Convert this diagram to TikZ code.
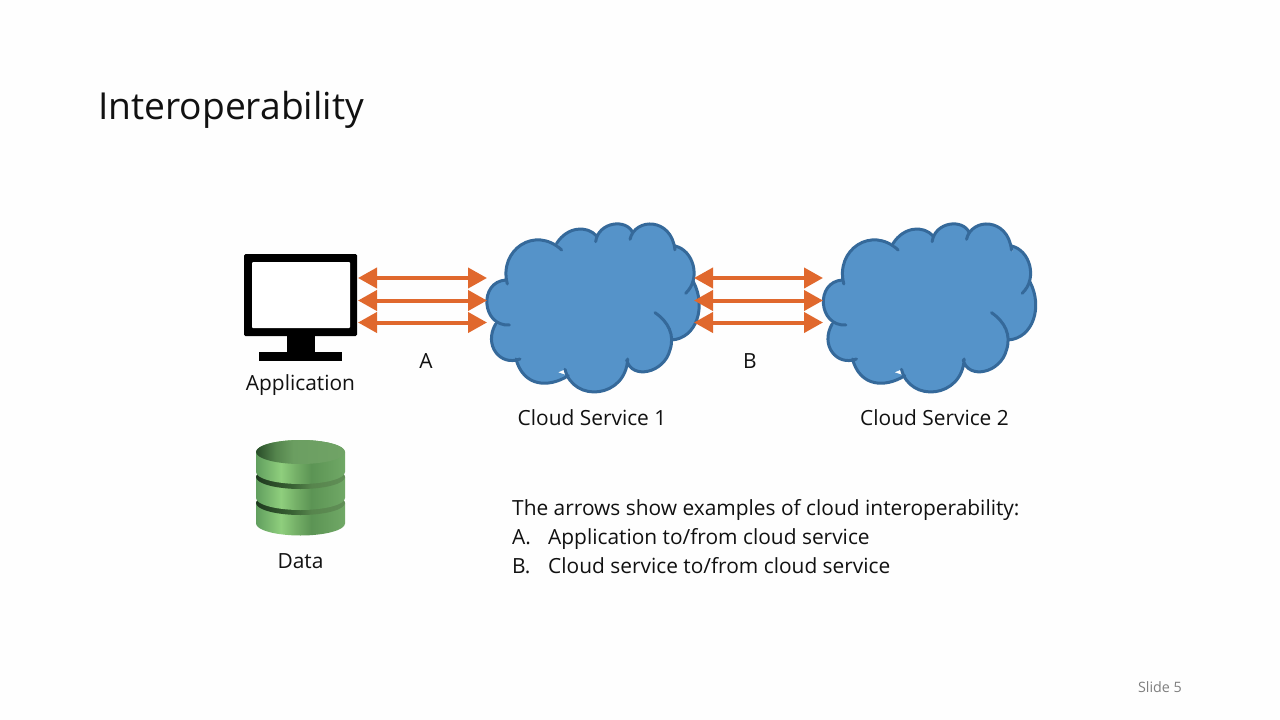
\documentclass[tikz,border=0pt]{standalone}
\usepackage{fontspec}
\setmainfont{Open Sans}
\usetikzlibrary{arrows.meta}
\definecolor{cloudfill}{HTML}{5593C9}
\definecolor{cloudline}{HTML}{35699A}
\definecolor{arroworange}{HTML}{E0682D}
\definecolor{slidegray}{HTML}{7F7F7F}
\definecolor{textdark}{HTML}{111111}
\pgfdeclarehorizontalshading{dbside}{100bp}{rgb(0bp)=(0.38,0.62,0.37); rgb(25bp)=(0.38,0.62,0.37); rgb(39bp)=(0.56,0.81,0.49); rgb(48bp)=(0.45,0.68,0.40); rgb(56bp)=(0.36,0.58,0.33); rgb(75bp)=(0.44,0.66,0.40); rgb(100bp)=(0.44,0.66,0.40)}
\pgfdeclarehorizontalshading{dbtop}{100bp}{rgb(0bp)=(0.16,0.30,0.16); rgb(25bp)=(0.16,0.30,0.16); rgb(36bp)=(0.33,0.52,0.30); rgb(46bp)=(0.42,0.62,0.38); rgb(75bp)=(0.44,0.64,0.40); rgb(100bp)=(0.44,0.64,0.40)}
\pgfdeclarehorizontalshading{dbgroove}{100bp}{rgb(0bp)=(0.12,0.22,0.12); rgb(25bp)=(0.12,0.22,0.12); rgb(45bp)=(0.22,0.38,0.20); rgb(56bp)=(0.34,0.52,0.30); rgb(75bp)=(0.38,0.56,0.34); rgb(100bp)=(0.38,0.56,0.34)}
\newcommand{\cloudstrokes}{
  (82,222) .. controls (55,120) and (165,45) .. (245,120)
  (230,100) .. controls (262,50) and (320,45) .. (350,78)
  (347,95) .. controls (355,35) and (440,25) .. (458,68)
  (450,88) .. controls (465,22) and (575,22) .. (585,120)
  (585,108) .. controls (640,120) and (665,205) .. (617,250)
  (640,215) .. controls (680,290) and (650,385) .. (575,390)
  (525,308) .. controls (565,335) and (585,375) .. (570,420) .. controls (552,490) and (455,510) .. (440,450)
  (443,447) .. controls (438,565) and (280,580) .. (255,478)
  (265,497) .. controls (205,535) and (130,530) .. (108,447)
  (120,447) .. controls (60,470) and (10,405) .. (47,342)
  (88,345) .. controls (5,350) and (-5,215) .. (78,210)
}
\newcommand{\cloudshape}[1]{
  \begin{scope}[shift={(#1,210)},x=0.3333pt,y=-0.3333pt]
    \fill[cloudfill] \cloudstrokes
      (82,222) -- (78,210) -- (170,100) -- (245,120) -- (230,100) -- (295,75) -- (350,78) -- (347,95) -- (375,60) -- (458,68) -- (450,88) -- (515,60) -- (585,108) -- (585,120) -- (640,215) -- (640,300) -- (615,370) -- (575,390) -- (570,420) -- (490,470) -- (440,450) -- (345,530) -- (255,478) -- (205,500) -- (108,447) -- (95,440) -- (47,380) -- (47,342) -- (35,285) -- cycle;
    \draw[cloudline,line width=3pt,line cap=round] \cloudstrokes;
  \end{scope}
}
\newcommand{\dbdisc}[3]{
  % #1 top centre y, #2 edge height, #3 top shading
  \shade[shading=dbside] (256,#1) -- (256,#1+#2) .. controls (256,#1+#2+6.6) and (276,#1+#2+12) .. (300.5,#1+#2+12) .. controls (325,#1+#2+12) and (345,#1+#2+6.6) .. (345,#1+#2) -- (345,#1) .. controls (345,#1-6.6) and (325,#1-12) .. (300.5,#1-12) .. controls (276,#1-12) and (256,#1-6.6) .. (256,#1) -- cycle;
  \shade[shading=#3] (256,#1) .. controls (256,#1+6.6) and (276,#1+12) .. (300.5,#1+12) .. controls (325,#1+12) and (345,#1+6.6) .. (345,#1) .. controls (345,#1-6.6) and (325,#1-12) .. (300.5,#1-12) .. controls (276,#1-12) and (256,#1-6.6) .. (256,#1) -- cycle;
}
\tikzset{
  lbl/.style={inner sep=0pt,font=\fontsize{20.9}{25}\selectfont,text=textdark},
  dbl/.style={arroworange,line width=4pt,{Triangle[length=19pt,width=20pt]}-{Triangle[length=19pt,width=20pt]}},
}
\begin{document}
\begin{tikzpicture}[x=1pt,y=-1pt]
\useasboundingbox (0,0) rectangle (1280,720);
\fill[white!99.5!black] (0,0) rectangle (1280,720);
\node[anchor=base west,inner sep=0pt,font=\fontsize{37.2}{44}\selectfont,text=textdark] (title) at (98,119) {Interoperability};
% monitor
\node[fill=black,rounded corners=1.5pt,minimum width=113pt,minimum height=82pt,inner sep=0pt] (app) at (300.5,295) {};
\node[fill=white,rounded corners=1pt,minimum width=98pt,minimum height=66pt,inner sep=0pt] (screen) at (301,295) {};
\node[fill=black,minimum width=28pt,minimum height=16pt,inner sep=0pt] (stem) at (301,344) {};
\node[fill=black,minimum width=83pt,minimum height=9pt,inner sep=0pt] (base) at (300.5,356.5) {};
\node[lbl,anchor=base] (applbl) at (300.5,390) {Application};
% clouds
\cloudshape{480}
\cloudshape{816.5}
\node[lbl,anchor=base] (c1lbl) at (592,425) {Cloud Service 1};
\node[lbl,anchor=base] (c2lbl) at (934.5,425) {Cloud Service 2};
% arrows
\foreach \n/\y in {1/278,2/300.5,3/322.5}{
  \coordinate (al\n) at (358,\y);
  \coordinate (ar\n) at (487,\y);
  \coordinate (bl\n) at (694,\y);
  \coordinate (br\n) at (823,\y);
  \draw[dbl] (al\n) -- (ar\n);
  \draw[dbl] (bl\n) -- (br\n);
}
\node[lbl,anchor=base] (alab) at (426,368) {A};
\node[lbl,anchor=base] (blab) at (750,368) {B};
% database
\dbdisc{503}{20.5}{dbgroove}
\dbdisc{477}{21}{dbgroove}
\dbdisc{452}{20}{dbtop}
\node[lbl,anchor=base] (dbl) at (300.5,568) {Data};
% text
\node[lbl,anchor=base west] (t0) at (512,515) {The arrows show examples of cloud interoperability:};
\node[lbl,anchor=base west] (t1a) at (512,544) {A.};
\node[lbl,anchor=base west] (t1b) at (548,544) {Application to/from cloud service};
\node[lbl,anchor=base west] (t2a) at (512,573) {B.};
\node[lbl,anchor=base west] (t2b) at (548,573) {Cloud service to/from cloud service};
\node[anchor=base east,inner sep=0pt,font=\fontsize{14.3}{17}\selectfont,text=slidegray] (slide) at (1182,692) {Slide 5};
\end{tikzpicture}
\end{document}
